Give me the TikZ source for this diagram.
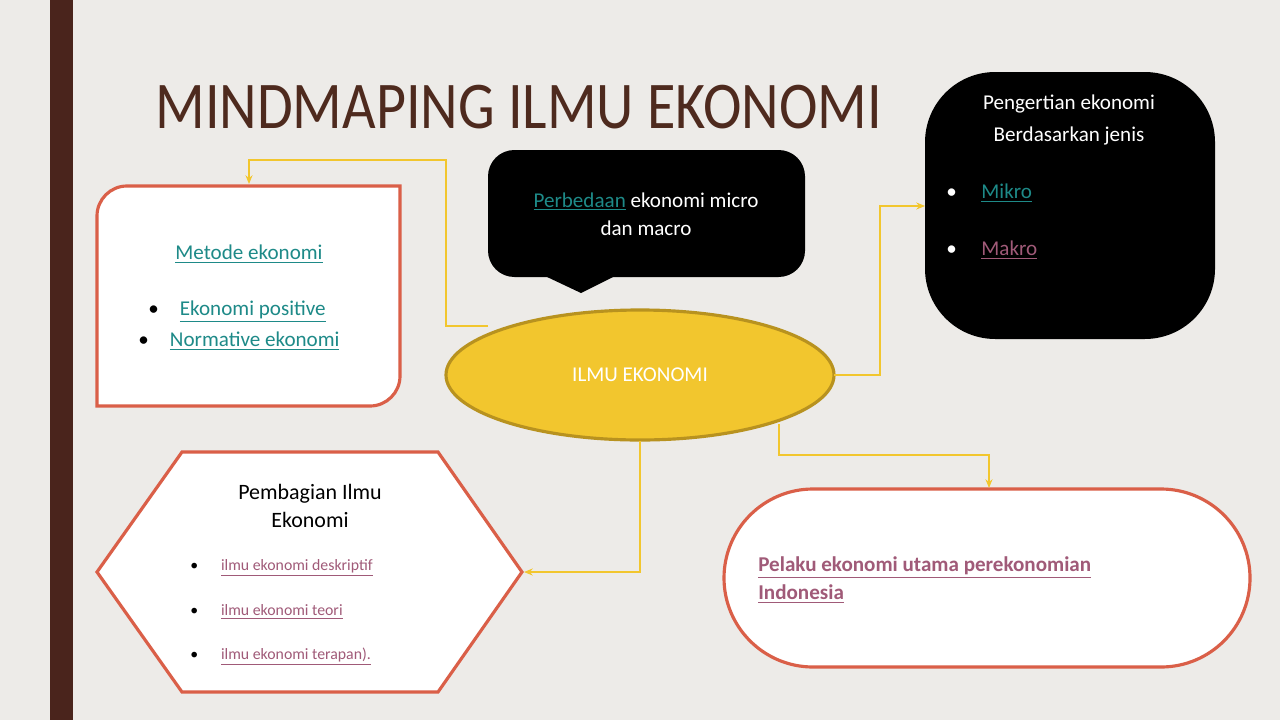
\documentclass[tikz,border=0pt]{standalone}
\usepackage{fontspec}
\setmainfont{Carlito}
\usetikzlibrary{arrows.meta}
\definecolor{bg}{HTML}{EDEBE8}
\definecolor{bar}{HTML}{4A241C}
\definecolor{ttl}{HTML}{4E2A1E}
\definecolor{ored}{HTML}{DA5F48}
\definecolor{yel}{HTML}{F2C62E}
\definecolor{yeld}{HTML}{B8921F}
\definecolor{teal}{HTML}{1E8A88}
\definecolor{mauve}{HTML}{A05A78}
\tikzset{
 conn/.style={draw=yel, line width=0.6pt, -{Stealth[length=5pt,width=4pt]}},
 txt/.style={inner sep=0pt, font=\fontsize{12}{14}\selectfont},
 small/.style={inner sep=0pt, font=\fontsize{9}{11}\selectfont},
 outl/.style={draw=ored, line width=1.8pt, fill=white}
}
\begin{document}
\begin{tikzpicture}[x=0.02cm,y=-0.02cm]
\fill[bg] (0,0) rectangle (1280,720);
\useasboundingbox (0,0) rectangle (1280,720);
\fill[bar] (50,0) rectangle (73,720);
\node[inner sep=0pt, anchor=west, text=ttl, font=\fontsize{38}{40}\selectfont] (title) at (155,107) {\scalebox{0.87}[1]{MINDMAPING ILMU EKONOMI}};
% left box
\path[outl] (97,406) -- (97,216) arc[start angle=180,end angle=270,radius=30] -- (400,186) -- (400,376) arc[start angle=0,end angle=90,radius=30] -- cycle;
\node[txt,text=teal] (m) at (249,254) {\underline{Metode ekonomi}};
\node[txt,anchor=west] (b1) at (148,312) {\textbullet\hspace{12pt}\textcolor{teal}{\underline{Ekonomi positive}}};
\node[txt,anchor=west] (b2) at (138,341) {\textbullet\hspace{12pt}\textcolor{teal}{\underline{Normative ekonomi}}};
% callout
\fill[black, rounded corners=15pt] (488,150) rectangle (805,277);
\fill[black] (545,276) -- (581,293) -- (615,276) -- cycle;
\node[txt,text=white,align=center] (p) at (646,214) {\textcolor{teal}{\underline{Perbedaan}} ekonomi micro\\[2pt]dan macro};
% black box
\fill[black, rounded corners=40pt] (925,72) rectangle (1215,339);
\node[txt,text=white,align=center] (pe) at (1069,120) {Pengertian ekonomi\\[4pt]Berdasarkan jenis};
\node[txt,anchor=west,text=white] (mi) at (946,193) {\textbullet\hspace{14pt}\textcolor{teal}{\underline{Mikro}}};
\node[txt,anchor=west,text=white] (ma) at (946,250) {\textbullet\hspace{14pt}\textcolor{mauve}{\underline{Makro}}};
% ellipse
\path[draw=yeld, fill=yel, line width=1.8pt] (640,375) ellipse[x radius=194, y radius=65];
\node[txt,text=white] (et) at (640,375) {ILMU EKONOMI};
% hexagon
\path[outl] (97,572) -- (182,452) -- (438,452) -- (522,572) -- (438,692) -- (182,692) -- cycle;
\node[txt,align=center,font=\fontsize{12.5}{16}\selectfont] (pb) at (310,506) {Pembagian Ilmu\\Ekonomi};
\node[small,anchor=west] (h1) at (190,568) {\textbullet\hspace{13pt}\textcolor{mauve}{\underline{ilmu ekonomi deskriptif}}};
\node[small,anchor=west] (h2) at (190,612) {\textbullet\hspace{13pt}\textcolor{mauve}{\underline{ilmu ekonomi teori}}};
\node[small,anchor=west] (h3) at (190,657) {\textbullet\hspace{13pt}\textcolor{mauve}{\underline{ilmu ekonomi terapan).}}};
% stadium
\path[outl] (813,489) -- (1161,489) arc[start angle=270,end angle=450,radius=89] -- (813,667) arc[start angle=90,end angle=270,radius=89] -- cycle;
\node[txt,anchor=west,align=left,text=mauve,font=\bfseries\fontsize{12}{16}\selectfont] (pl) at (758,580) {\underline{Pelaku ekonomi utama perekonomian}\\\underline{Indonesia}};
% connectors
\coordinate (c1) at (488,326);
\coordinate (c2) at (834,375);
\coordinate (c3) at (779,424);
\coordinate (c4) at (640,441);
\draw[conn] (c1) -- (446,326) -- (446,160) -- (249,160) -- (249,184);
\draw[conn] (c2) -- (880,375) -- (880,206) -- (925,206);
\draw[conn] (c3) -- (779,455) -- (989,455) -- (989,488);
\draw[conn] (c4) -- (640,572) -- (524,572);
\end{tikzpicture}
\end{document}
